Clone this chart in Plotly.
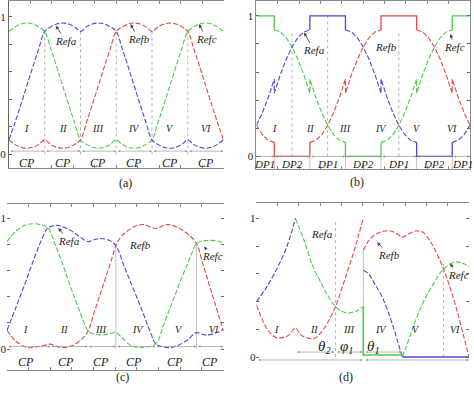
import plotly.graph_objects as go

# ---------------- data ----------------
deg10 = list(range(0, 361, 10))

# panel (a)  – continuous reference waves
a_blue = [.106, .231, .363, .5, .637, .769, .894, .927, .948, .955, .948, .927, .894,
          .927, .948, .955, .948, .927, .894, .769, .637, .5, .363, .231, .106,
          .073, .052, .045, .052, .073, .106, .073, .052, .045, .052, .073, .106]
a_red = [.106, .073, .052, .045, .052, .073, .106, .073, .052, .045, .052, .073, .106,
         .231, .363, .5, .637, .769, .894, .927, .948, .955, .948, .927, .894,
         .927, .948, .955, .948, .927, .894, .769, .637, .5, .363, .231, .106]
a_green = [.894, .927, .948, .955, .948, .927, .894, .769, .637, .5, .363, .231, .106,
           .073, .052, .045, .052, .073, .106, .073, .052, .045, .052, .073, .106,
           .231, .363, .5, .637, .769, .894, .927, .948, .955, .948, .927, .894]
a_bounds = [60, 120, 180, 240, 300]
a_sectors = [30, 90, 150, 210, 270, 330]

# panel (b) – discontinuous waves with clamps
b_blue_x = [0, 10, 20, 30, 30, 40, 50, 60, 70, 80, 90, None, 150, 160, 170, 180, 190, 200, 210,
            210, 220, 230, 240, 250, 260, 270, None, 330, 340, 350, 360]
b_blue_y = [.221, .311, .421, .55, .45, .579, .689, .779, .846, .886, .9, None, .9, .886, .846, .779,
            .689, .579, .45, .55, .421, .311, .221, .154, .114, .1, None, .1, .114, .154, .221]
b_blue_cx = [90, 90, 150, 150, None, 270, 270, 330, 330]
b_blue_cy = [.9, 1, 1, .9, None, .1, 0, 0, .1]
b_red_x = [0, 10, 20, 30, None, 90, 100, 110, 120, 130, 140, 150, 150, 160, 170, 180, 190, 200, 210,
           None, 270, 280, 290, 300, 310, 320, 330, 330, 340, 350, 360]
b_red_y = [.221, .154, .114, .1, None, .1, .114, .154, .221, .311, .421, .55, .45, .579, .689, .779,
           .846, .886, .9, None, .9, .886, .846, .779, .689, .579, .45, .55, .421, .311, .221]
b_red_cx = [30, 30, 90, 90, None, 210, 210, 270, 270]
b_red_cy = [.1, 0, 0, .1, None, .9, 1, 1, .9]
b_green_x = [30, 40, 50, 60, 70, 80, 90, 90, 100, 110, 120, 130, 140, 150, None,
             210, 220, 230, 240, 250, 260, 270, 270, 280, 290, 300, 310, 320, 330]
b_green_y = [.9, .886, .846, .779, .689, .579, .45, .55, .421, .311, .221, .154, .114, .1, None,
             .1, .114, .154, .221, .311, .421, .55, .45, .579, .689, .779, .846, .886, .9]
b_green_cx = [0, 30, 30, None, 150, 150, 210, 210, None, 330, 330, 360]
b_green_cy = [1, 1, .9, None, .1, 0, 0, .1, None, .9, 1, 1]
b_dots = [60, 120, 240]
b_dot_top = [.88, 1.0, .88]
b_bounds = [0, 30, 90, 150, 210, 270, 330, 360]
b_labels = ["DP1", "DP2", "DP1", "DP2", "DP1", "DP2", "DP1"]
b_label_x = [14, 60, 120, 180, 240, 300, 347]

# panel (c)
c_blue_x = [0, 15, 30, 45, 60, 68, 76, 84, 95, 106, 120, 135, 145, 156, 170, 181, 195, 210, 225,
            240, 247, 258, 269, 285, 300, 315, 325, 333, 345, 360]
c_blue_y = [.144, .32, .5, .69, .86, .925, .94, .945, .93, .906, .86, .82, .835, .844, .83, .79,
            .63, .46, .29, .11, .04, .02, .012, .03, .07, .126, .112, .108, .12, .15]
c_green_x = [0, 15, 30, 43, 55, 68, 80, 90, 100, 110, 120, 128, 135, 145, 156, 170, 181, 195, 205,
             217, 230, 247, 260, 270, 280, 290, 300, 308, 315, 325, 338, 350, 360]
c_green_y = [.82, .9, .945, .957, .95, .925, .8, .68, .55, .42, .3, .2, .139, .115, .109, .118,
             .126, .07, .03, .012, .015, .038, .18, .3, .42, .54, .65, .74, .806, .825, .83, .825, .81]
c_red_x = [0, 15, 34, 50, 65, 72, 80, 95, 110, 125, 135, 145, 155, 165, 175, 181, 190, 206, 218,
           228, 240, 247, 258, 269, 285, 300, 315, 325, 335, 345, 360]
c_red_y = [.144, .06, .012, .018, .032, .038, .025, .012, .03, .08, .139, .28, .42, .56, .7, .79,
           .86, .92, .945, .95, .93, .92, .94, .95, .925, .88, .806, .66, .51, .36, .139]
c_bounds = [0, 72, 134, 181, 247, 315, 360]
c_sector_x = [31, 95, 156, 217, 286, 344]
c_cp_x = [31, 98, 156, 211, 280, 338]
c_vlines = [181, 315]
c_vtop = [.79, .806]

# panel (d)
d_blue_x = [0, 15, 30, 45, 55, 66, None, 181, 190, 200, 211, 220, 230, 240, 247]
d_blue_y = [.4, .49, .6, .73, .84, 1.0, None, .626, .6, .53, .45, .36, .24, .1, 0.0]
d_blue_flat_x = [247, 360]
d_blue_flat_y = [0, 0]
d_green_x = [66, 80, 95, 110, 120, 134, 145, 156, 170, 181, None,
             247, 260, 270, 280, 290, 300, 310, 317, 325, 336, 348, 360]
d_green_y = [1.0, .85, .66, .53, .45, .364, .33, .317, .335, .364, None,
             0.0, .15, .27, .37, .46, .53, .6, .633, .665, .686, .68, .65]
d_green_solid_x = [181, 181, 247]
d_green_solid_y = [.364, .015, .015]
d_red_x = [0, 10, 20, 34, 45, 55, 66, 75, 85, 98, 110, 122, 134, 145, 155, 165, 173, 181, None,
           181, 190, 200, 212, 227, 240, 247, 258, 270, 282, 295, 305, 317, 328, 338, 348, 360]
d_red_y = [.376, .27, .19, .14, .14, .16, .21, .16, .14, .135, .18, .26, .364, .5, .63, .76, .88, 1.0,
           None, .77, .84, .88, .905, .91, .885, .865, .89, .91, .9, .83, .75, .633, .5, .36, .2, 0.0]
d_sector_x = [34, 98, 156, 211, 270, 336]
d_dots = [134, 317]
d_dot_top = [.98, .69]

roman = ["I", "II", "III", "IV", "V", "VI"]

# ---------------- styling ----------------
BLUE, RED, GREEN = "#4848d8", "#e24848", "#48cc48"
DASH = "5px,2px"
SERIF = "Liberation Serif"
GRAY = "#8a8a8a"

fig = go.Figure()


def add(ax, x, y, color, dash=DASH, width=1.1, shape="linear"):
    fig.add_trace(go.Scatter(x=x, y=y, mode="lines", xaxis="x" + ax, yaxis="y" + ax,
                             line=dict(color=color, width=width, dash=dash, shape=shape),
                             hoverinfo="skip", showlegend=False))


def vlines(ax, xs, y0s, y1s, color="#aaaaaa", dash="dot", width=0.9):
    X, Y = [], []
    for x, a, b in zip(xs, y0s, y1s):
        X += [x, x, None]
        Y += [a, b, None]
    add(ax, X, Y, color, dash=dash, width=width)


# (a)
vlines("", a_bounds, [0] * 5, [.894] * 5)
add("", deg10, a_red, RED, shape="spline")
add("", deg10, a_green, GREEN, shape="spline")
add("", deg10, a_blue, BLUE, shape="spline")

# (b)
vlines("2", b_dots, [0] * 3, b_dot_top)
vlines("2", b_bounds[1:-1], [0] * 6, [-0.09] * 6, color="#bbbbbb", dash="solid")
add("2", b_red_x, b_red_y, RED)
add("2", b_green_x, b_green_y, GREEN)
add("2", b_blue_x, b_blue_y, BLUE)
add("2", b_red_cx, b_red_cy, RED, dash="solid", width=1.3)
add("2", b_green_cx, b_green_cy, GREEN, dash="solid", width=1.3)
add("2", b_blue_cx, b_blue_cy, BLUE, dash="solid", width=1.3)

# (c)
vlines("3", c_vlines, [0, 0], c_vtop, color="#bbbbbb", dash="solid")
add("3", c_red_x, c_red_y, RED, shape="spline")
add("3", c_green_x, c_green_y, GREEN, shape="spline")
add("3", c_blue_x, c_blue_y, BLUE, shape="spline")

# (d)
vlines("4", d_dots, [0, 0], d_dot_top)
vlines("4", [181], [0], [.77], color="#bbbbbb", dash="solid")
add("4", d_red_x, d_red_y, RED, shape="spline")
add("4", d_green_x, d_green_y, GREEN, shape="spline")
add("4", d_blue_x, d_blue_y, BLUE, shape="spline")
add("4", d_green_solid_x, d_green_solid_y, GREEN, dash="solid", width=1.6)
add("4", d_blue_flat_x, d_blue_flat_y, BLUE, dash="solid", width=1.4)

# ---------------- axes ----------------
W, H = 474, 395
panels = {
    "": dict(px=(8, 223), py=(0, 169), yr=(-0.1007, 1.115), left=True, right=False, top_only=False),
    "2": dict(px=(256, 470), py=(0, 170), yr=(-0.0915, 1.1056), left=True, right=True, top_only=False),
    "3": dict(px=(6, 223), py=(204.7, 372.7), yr=(-0.1586, 1.110), left=False, right=False, top_only=False),
    "4": dict(px=(256, 469), py=(204.3, 362.7), yr=(-0.0214, 1.11), left=False, right=False, top_only=True),
}
layout = {}
for k, p in panels.items():
    xd = [p["px"][0] / W, p["px"][1] / W]
    yd = [1 - p["py"][1] / H, 1 - p["py"][0] / H]
    xa = dict(domain=xd, range=[0, 360], anchor="y" + k, showgrid=False, zeroline=False,
              showticklabels=False, ticks="inside", ticklen=3, tickcolor=GRAY,
              tickvals=list(range(36, 360, 36)), showline=True, linecolor=GRAY, linewidth=1,
              fixedrange=True)
    if p["top_only"]:
        xa.update(side="top", mirror=False)
    else:
        xa.update(mirror="ticks")
    ya = dict(domain=yd, range=list(p["yr"]), anchor="x" + k, showgrid=False, zeroline=False,
              tickvals=[0, .2, .4, .6, .8, 1], ticktext=["0", "", "", "", "", "1"],
              ticks="inside", ticklen=3, tickcolor="#666", tickfont=dict(family=SERIF, size=11, color="#222"),
              showline=p["left"], linecolor="#666", linewidth=1, fixedrange=True)
    if p["right"]:
        ya.update(mirror="ticks", linecolor=GRAY)
    elif not p["left"]:
        ya.update(mirror="ticks")
    layout["xaxis" + k] = xa
    layout["yaxis" + k] = ya

fig.update_layout(**layout)

# ---------------- annotations ----------------
anns = []


def txt(ax, x, y, text, size=11, italic=True):
    anns.append(dict(xref="x" + ax, yref="y" + ax, x=x, y=y, showarrow=False,
                     text=("<i>%s</i>" % text) if italic else text,
                     font=dict(family=SERIF, size=size, color="#222")))


def ref(ax, x, y, dx, dy, text):
    anns.append(dict(xref="x" + ax, yref="y" + ax, x=x, y=y, ax=dx, ay=dy, showarrow=True,
                     arrowhead=2, arrowsize=0.8, arrowwidth=0.9, arrowcolor="#444",
                     text="<i>%s</i>" % text, font=dict(family=SERIF, size=11, color="#222")))


def span(ax, x0, x1, y):
    anns.append(dict(xref="x" + ax, yref="y" + ax, x=x1, y=y, ax=x0, ay=y, axref="x" + ax,
                     ayref="y" + ax, showarrow=True, arrowhead=2, arrowside="end+start",
                     arrowsize=0.7, arrowwidth=0.7, arrowcolor="#999", text=""))


# (a)
for i, s in enumerate(a_sectors):
    txt("", s, 0.19, roman[i], size=10)
    txt("", s, -0.06, "CP", size=12)
    span("", s - 30, s + 30, 0.024)
ref("", 78.7, 0.935, 10, 15, "Refa")
ref("", 204, 0.947, 8, 15, "Refb")
ref("", 318.6, 0.947, 8, 15, "Refc")

# (b)
for i, s in enumerate(b_bounds[1:-1]):
    txt("2", s, 0.2, roman[i], size=10)
for i in range(7):
    span("2", b_bounds[i], b_bounds[i + 1], 0.0)
    txt("2", b_label_x[i], -0.056, b_labels[i], size=11)
ref("2", 80.2, 0.882, 10, 18, "Refa")
ref("2", 203.6, 0.875, 9, 14, "Refb")
ref("2", 326.9, 0.871, 4, 13, "Refc")

# (c)
for i in range(6):
    txt("3", c_sector_x[i], 0.146, roman[i], size=10)
    txt("3", c_cp_x[i], -0.10, "CP", size=12)
    span("3", c_bounds[i], c_bounds[i + 1], 0.02)
ref("3", 85.1, 0.924, 11, 13, "Refa")
ref("3", 204.5, 0.906, 10, 15, "Refb")
ref("3", 327.3, 0.781, 9, 9, "Refc")

# (d)
for i in range(6):
    txt("4", d_sector_x[i], 0.2, roman[i], size=10)
span("4", 66, 132, 0.036)
span("4", 134, 180, 0.036)
span("4", 182, 246, 0.036)
span("4", 0, 180, -0.021)
span("4", 182, 360, -0.021)
txt("4", 115, 0.075, "θ<sub>2</sub>", size=15)
txt("4", 153.8, 0.075, "φ<sub>1</sub>", size=15)
txt("4", 197.7, 0.075, "θ<sub>1</sub>", size=15)
txt("4", 104.8, -0.08, "DP1", size=12)
txt("4", 272, -0.08, "DP2", size=12)
ref("4", 94.6, 0.948, 10, 8, "Refa")
ref("4", 204.5, 0.829, 12, 13, "Refb")
ref("4", 327.9, 0.676, 8, 12, "Refc")

for lab, x, y in [("(a)", 116.7, 184.3), ("(b)", 365.3, 182.7), ("(c)", 113.3, 388.5), ("(d)", 355, 388.5)]:
    anns.append(dict(xref="paper", yref="paper", x=x / W, y=1 - y / H, showarrow=False, text=lab,
                     font=dict(family=SERIF, size=12, color="#222")))

fig.update_layout(annotations=anns, width=W, height=H, margin=dict(l=0, r=0, t=0, b=0),
                  paper_bgcolor="white", plot_bgcolor="white", showlegend=False)

fig.write_html("out.html", config={"displayModeBar": False},
               post_script="document.body.style.margin='0px';")
